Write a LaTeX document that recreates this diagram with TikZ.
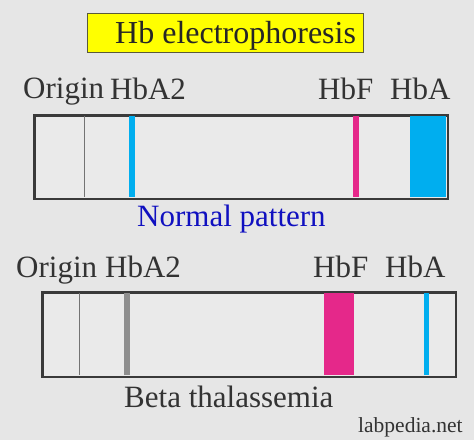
\documentclass[tikz,border=0pt]{standalone}
\usepackage{fontspec}
\setmainfont{Liberation Serif}
\definecolor{bgc}{HTML}{E6E6E6}
\definecolor{stripc}{HTML}{EAEAEA}
\definecolor{edgec}{HTML}{3A3A3A}
\definecolor{cyanb}{HTML}{00AEEF}
\definecolor{magb}{HTML}{E5288A}
\definecolor{grayb}{HTML}{8E8E8E}
\definecolor{txtc}{HTML}{333333}
\definecolor{bluet}{HTML}{1010C0}
\definecolor{yel}{HTML}{FFFF00}
\definecolor{yeledge}{HTML}{5A5A3A}
\tikzset{
  strip/.style={draw=edgec, line width=1.6pt, fill=stripc, rectangle, inner sep=0pt, anchor=north west},
  titlebox/.style={draw=yeledge, line width=1.2pt, fill=yel, rectangle, inner sep=0pt, anchor=north west, minimum width=276pt, minimum height=39pt},
  lbl/.style={anchor=base west, inner sep=0pt, text=txtc, font=\fontsize{31}{36}\selectfont},
  originline/.style={draw=gray!90!black, line width=0.8pt},
}
\begin{document}
\begin{tikzpicture}[x=1pt,y=-1pt]
\useasboundingbox (0,0) rectangle (474,440);
\fill[bgc] (0,0) rectangle (474,440);
% title
\node[titlebox] (title) at (87,13) {};
\node[lbl, text=black!85, font=\fontsize{32}{36}\selectfont] (titletext) at (115,43) {Hb electrophoresis};
% top strip
\node[lbl] (o1) at (23,98) {Origin};
\node[lbl] (a21) at (110,99) {HbA2};
\node[lbl] (f1) at (318,99) {HbF};
\node[lbl] (a1) at (390,99) {HbA};
\node[strip, minimum width=413pt, minimum height=83pt] (strip1) at (34,115) {};
\draw[originline] (84,116) -- (84,197);
\fill[cyanb] (129,116) rectangle (135,197);
\fill[magb] (353,116) rectangle (359,197);
\fill[cyanb] (410,116) rectangle (446.2,197);
\draw[edgec, line width=1.6pt] (strip1.north west) rectangle (strip1.south east);
\node[lbl, text=bluet] (normal) at (137,226) {Normal pattern};
% bottom strip
\node[lbl] (o2) at (16,277) {Origin};
\node[lbl] (a22) at (105,277) {HbA2};
\node[lbl] (f2) at (313,277) {HbF};
\node[lbl] (a2) at (385,277) {HbA};
\node[strip, minimum width=413pt, minimum height=84pt] (strip2) at (42,292) {};
\draw[originline] (79,293) -- (79,375);
\fill[grayb] (124,293) rectangle (130,375);
\fill[magb] (324,293) rectangle (354,375);
\fill[cyanb] (424,293) rectangle (429,375);
\draw[edgec, line width=1.6pt] (strip2.north west) rectangle (strip2.south east);
\node[lbl] (beta) at (124,407) {Beta thalassemia};
\node[lbl, font=\fontsize{21.5}{24}\selectfont] (site) at (358,432) {labpedia.net};
\end{tikzpicture}
\end{document}
